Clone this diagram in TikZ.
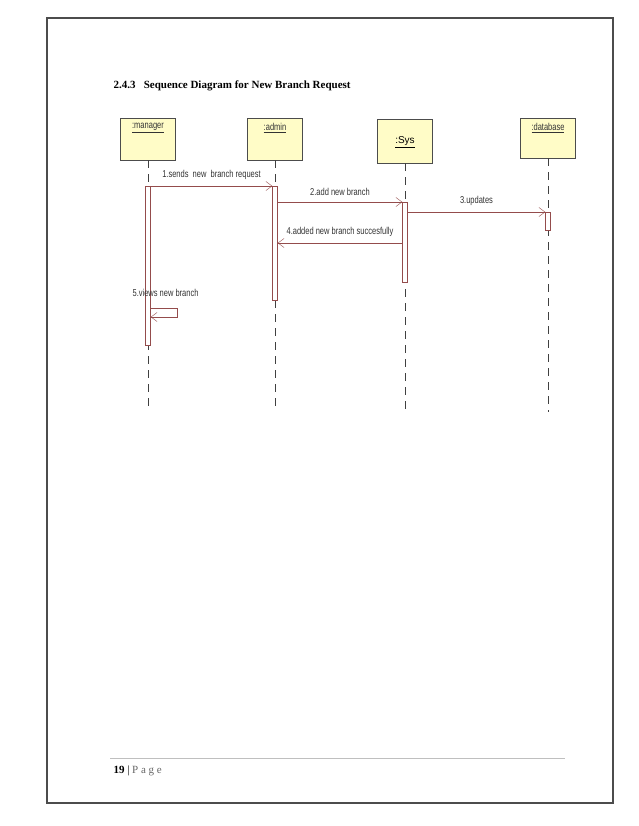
\documentclass[tikz,border=0pt]{standalone}
\usepackage{fontspec}
\setmainfont{Liberation Serif}
\newfontfamily\diag{Liberation Sans}
\usetikzlibrary{arrows.meta}
\begin{document}
\begin{tikzpicture}[x=1pt,y=-1pt,
  obj/.style={draw=black!70,fill=yellow!22!white,minimum width=55pt,minimum height=42pt,inner sep=0pt},
  lbl/.style={font=\diag\fontsize{10}{11}\selectfont,text=black!80,xscale=0.75},
  life/.style={draw=black!75,dashed,dash pattern=on 8pt off 6pt},
  act/.style={draw=red!40!black!70,fill=white,minimum width=5pt,inner sep=0pt},
  msg/.style={draw=red!40!black!70,-{Straight Barb[length=6pt,width=9pt]}}]
\useasboundingbox (0,0) rectangle (638,826);
\draw[black!70,line width=1.5pt] (47,18) rectangle (613,803);
\node[anchor=west,font=\bfseries\fontsize{11}{13}\selectfont] (title) at (110,86) {2.4.3\ \ \ Sequence Diagram for New Branch Request};
\node[obj] (m) at (148,139) {};
\node[lbl,anchor=north] at (148,120) {\underline{:manager}};
\node[obj] (a) at (275,139) {};
\node[lbl,anchor=north] at (275,120) {\underline{:admin}};
\node[obj,minimum height=44pt] (s) at (405,141) {};
\node[font=\diag\fontsize{10}{11}\selectfont] at (405,142) {\underline{:Sys}};
\node[obj,minimum height=40pt] (d) at (548,138) {};
\node[lbl,anchor=north] at (548,120) {\underline{:database}};
\coordinate (mE) at (148,412); \coordinate (aE) at (275,412);
\coordinate (sE) at (405,412); \coordinate (dE) at (548,412);
\draw[life] (m.south) -- (mE); \draw[life] (a.south) -- (aE);
\draw[life] (s.south) -- (sE); \draw[life] (d.south) -- (dE);
\node[act,minimum height=159pt,anchor=north] (am) at (148,186) {};
\node[act,minimum height=114pt,anchor=north] (aa) at (275,186) {};
\node[act,minimum height=80pt,anchor=north] (as) at (405,202) {};
\node[act,minimum height=18pt,anchor=north] (ad) at (548,212) {};
\draw[msg] (am.north east) -- (aa.north west) node[lbl,midway,above=3pt] {1.sends\ \ new\ \ branch request};
\draw[msg] (aa.east |- as.north) -- (as.north west) node[lbl,midway,above=3pt] {2.add new branch};
\draw[msg] (as.east |- ad.north) -- (ad.north west) node[lbl,midway,above=3pt] {3.updates};
\coordinate (r4) at (as.west |- 0,243);
\draw[msg] (r4) -- (aa.east |- r4) node[lbl,midway,above=3pt] {4.added new branch succesfully};
\coordinate (s5) at (am.east |- 0,308);
\draw[msg] (s5) -- ++(26,0) -- ++(0,9) -- (am.east |- 0,317);
\node[lbl,anchor=west] at (130,293) {5.views new branch};
\draw[black!25] (110,758) -- (565,758);
\node[anchor=west,font=\fontsize{11}{13}\selectfont] (pg) at (110,771) {\textbf{19} | \textcolor{black!60}{P a g e}};
\end{tikzpicture}
\end{document}
